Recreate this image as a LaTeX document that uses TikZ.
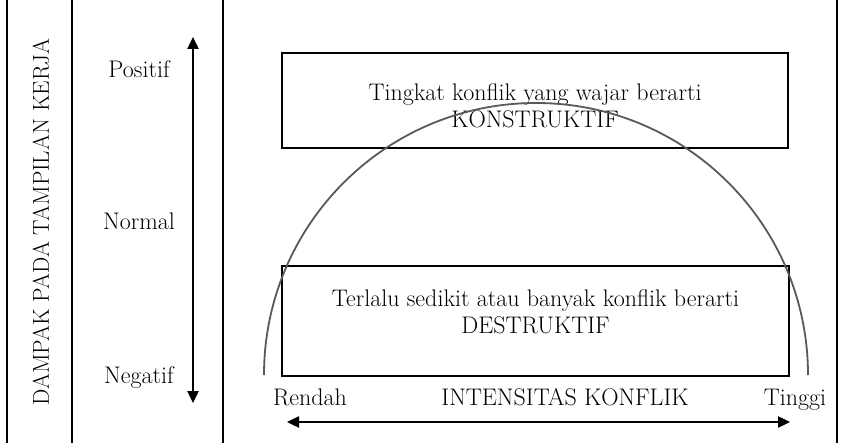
\documentclass[tikz,border=0pt]{standalone}
\usetikzlibrary{arrows.meta}

\begin{document}
\begin{tikzpicture}[x=1pt, y=-1pt,
        garis/.style={line width=2.2pt},
        teks/.style={font=\fontsize{24}{27}\selectfont},
        kotak/.style={draw, line width=2.2pt, align=center, teks},
        panah/.style={line width=2.4pt, {Triangle[length=12pt,width=11pt]}-{Triangle[length=12pt,width=11pt]}},
        busur/.style={draw=black!65, line width=1.8pt}]
                \useasboundingbox (0,0) rectangle (842,443);
                \draw[garis] (7,0) -- (7,443);
                \draw[garis] (72,0) -- (72,443);
                \draw[garis] (223,0) -- (223,443);
                \draw[garis] (837,0) -- (837,443);
                \node[rotate=90, font=\fontsize{23}{28}\selectfont] (dampak) at (41,222) {DAMPAK PADA TAMPILAN KERJA};
                \node[teks, anchor=base] (positif) at (139,78) {Positif};
                \node[teks, anchor=base] (normal) at (139,230) {Normal};
                \node[teks, anchor=base] (negatif) at (139,383) {Negatif};
                \coordinate (atas) at (193,37);
                \coordinate (bawah) at (193,403);
                \draw[panah] (atas) -- (bawah);
                \node[kotak, minimum width=506pt, minimum height=95pt, text height=55pt] (wajar) at (535,100.5) {Tingkat konflik yang wajar berarti\\KONSTRUKTIF};
                \node[kotak, minimum width=507pt, minimum height=110pt, text depth=18pt] (destruktif) at (535.5,321) {Terlalu sedikit atau banyak konflik berarti\\DESTRUKTIF};
                \draw[busur] (264,375) arc[start angle=180, end angle=360, radius=272];
                \node[teks, anchor=base] (rendah) at (310,405) {Rendah};
                \node[teks, anchor=base] (intensitas) at (565,405) {INTENSITAS KONFLIK};
                \node[teks, anchor=base] (tinggi) at (795,405) {Tinggi};
                \coordinate (kiri) at (287,422);
                \coordinate (kanan) at (790,422);
                \draw[panah] (kiri) -- (kanan);
            \end{tikzpicture}
\end{document}
